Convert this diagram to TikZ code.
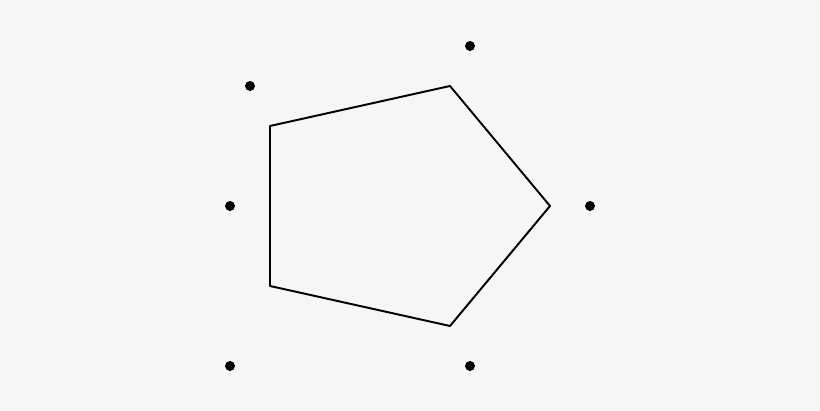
\documentclass[tikz,border=0pt]{standalone}
\usepackage{tikz}
\usepackage{tkz-euclide}
\definecolor{bgpage}{HTML}{F6F6F6}
\tikzset{
  vertexdot/.style={fill=black},
}

\begin{document}
\begin{tikzpicture}

    \fill[bgpage] (0,0) rectangle (8.2,4.11);
    \useasboundingbox (0,0) rectangle (8.2,4.11);

    \tkzDefPoint(2.70,2.85){p1};
    \tkzDefPoint(4.50,3.25){p2};
    \tkzDefPoint(5.50,2.05){p3};
    \tkzDefPoint(4.50,0.85){p4};
    \tkzDefPoint(2.70,1.25){p5};

    \tkzDrawPolygon[line width=0.55pt, black](p1,p2,p3,p4,p5);

    \foreach \name/\x/\y in {d1/2.50/3.25, d2/4.70/3.65, d3/5.90/2.05,
                             d4/4.70/0.45, d5/2.30/0.45, d6/2.30/2.05}
        \coordinate (\name) at (\x,\y);

    \foreach \name in {d1,d2,d3,d4,d5,d6}
        \fill[vertexdot] (\name) circle (0.05);

\end{tikzpicture}
\end{document}
